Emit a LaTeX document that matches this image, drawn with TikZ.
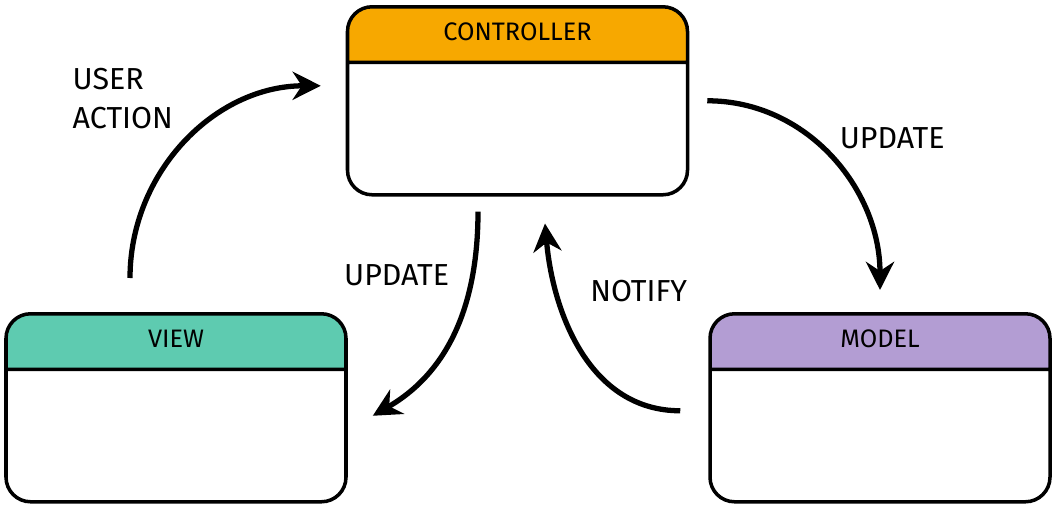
\documentclass[tikz,border=0pt]{standalone}
\usepackage{fontspec}
\setmainfont{Fira Sans}
\usetikzlibrary{shapes,arrows.meta}
\definecolor{ctrlcolor}{HTML}{F7A800}
\definecolor{viewcolor}{HTML}{5ECBB0}
\definecolor{modelcolor}{HTML}{B39DD3}
\tikzset{
	box/.style = {
		draw, line width=2pt, rounded corners=14pt, rectangle split, rectangle split parts=2,
		inner sep=0pt, text width=6.8cm, align=center, anchor=north, font=\Large
	}
}
\tikzset{
	flow/.style = {
		line width=3pt, -{Stealth[length=16pt,width=16pt]}
	}
}
\tikzset{
	label/.style = {
		font=\LARGE, align=left
	}
}
\newcommand{\headrule}{\rule[-0.4cm]{0pt}{1.04cm}}
\newcommand{\bodyrule}{\rule{0pt}{2.58cm}}

\begin{document}
\begin{tikzpicture}
	\useasboundingbox (0,0) rectangle (21.24,10.32);
	\node[box, rectangle split part fill={ctrlcolor,white}] (Controller) at (10.35,10.22) {\headrule CONTROLLER
		\nodepart{two}\bodyrule};
	\node[box, rectangle split part fill={viewcolor,white}] (View) at (3.52,4.08) {\headrule VIEW
		\nodepart{two}\bodyrule};
	\node[box, rectangle split part fill={modelcolor,white}] (Model) at (17.6,4.08) {\headrule MODEL
		\nodepart{two}\bodyrule};

	\draw[flow] ([shift={(-0.92,0.68)}]View.north) to[out=90, in=180]
		node[label, pos=0.55, above left, xshift=-0.3cm, yshift=-0.1cm]{USER\\ACTION} ([shift={(-0.5,0.3)}]Controller.west);
	\draw[flow] ([shift={(0.36,0)}]Controller.east) to[out=0, in=90]
		node[label, pos=0.5, above right]{UPDATE} ([shift={(0,0.44)}]Model.north);
	\draw[flow] ([shift={(-0.79,-0.3)}]Controller.south) to[out=-90, in=30]
		node[label, pos=0.25, left=0.3cm]{UPDATE} ([shift={(0.5,-0.16)}]View.east);
	\draw[flow] ([shift={(-0.56,-0.06)}]Model.west) to[out=180, in=-85]
		node[label, pos=0.75, right=0.5cm]{NOTIFY} ([shift={(0.55,-0.54)}]Controller.south);
\end{tikzpicture}
\end{document}
